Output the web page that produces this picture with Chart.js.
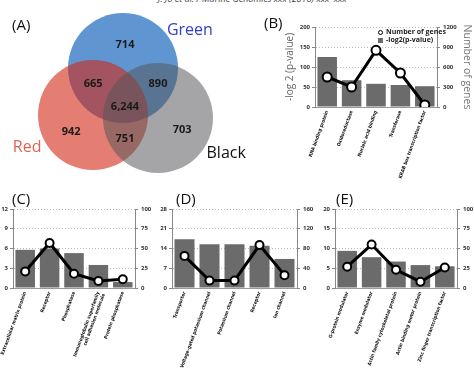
<!DOCTYPE html>
<html>
<head>
<meta charset="utf-8">
<script src="https://cdn.jsdelivr.net/npm/chart.js@4"></script>
<style>
body { margin: 0; width: 474px; height: 373px; background: #fff; position: relative; overflow: hidden; font-family: "Open Sans", sans-serif; }
canvas { position: absolute; }
.tag { position: absolute; font-size: 15px; line-height: 1; color: #111; }
.legend { position: absolute; font-size: 7px; font-weight: bold; line-height: 1; color: #222; white-space: nowrap; }
.legend i { display: inline-block; width: 5px; height: 5px; margin-right: 3px; vertical-align: -1px; }
</style>
</head>
<body>

<div style="position:absolute;left:158px;top:-8px;font-size:9px;font-style:italic;color:#444;">J. Jo et al. / Marine Genomics xxx (2016) xxx–xxx</div>

<canvas id="venn" width="260" height="190" style="left:0;top:0"></canvas>
<canvas id="chartB" width="194" height="175" style="left:280px;top:15px"></canvas>
<canvas id="chartC" width="155" height="178" style="left:0;top:195px"></canvas>
<canvas id="chartD" width="160" height="178" style="left:155px;top:195px"></canvas>
<canvas id="chartE" width="159" height="178" style="left:315px;top:195px"></canvas>

<div class="tag" style="left:12px;top:17px">(A)</div>
<div class="tag" style="left:264px;top:15px">(B)</div>
<div class="tag" style="left:12px;top:191px">(C)</div>
<div class="tag" style="left:176px;top:191px">(D)</div>
<div class="tag" style="left:336px;top:191px">(E)</div>

<div class="legend" style="left:378px;top:28px"><i style="border:1.5px solid #000;border-radius:50%;width:3px;height:3px;background:#fff"></i>Number of genes</div>
<div class="legend" style="left:378px;top:36px"><i style="background:#6b6b6b"></i>-log2(p-value)</div>

<script>
// venn diagram: gene counts per region
const setNames = ['Green', 'Red', 'Black'];
const vennCounts = [714, 665, 890, 6244, 942, 751, 703];

// panel B
const labelsB = ['RNA binding protein', 'Oxidoreductase', 'Nucleic acid binding', 'Transferase', 'KRAB box transcription factor'];
const pvalB = [125, 67, 58, 55, 52];
const genesB = [450, 300, 850, 510, 30];

// panel C
const labelsC = ['Extracellular matrix protein', 'Receptor', 'Phosphatase', ['Immunoglobulin superfamily', 'cell adhesion molecule'], 'Protein phosphatase'];
const pvalC = [5.8, 6.0, 5.3, 3.5, 0.9];
const genesC = [21, 57, 18, 9, 11];

// panel D
const labelsD = ['Transporter', 'Voltage-gated potassium channel', 'Potassium channel', 'Receptor', 'Ion channel'];
const pvalD = [17.3, 15.5, 15.5, 15.0, 10.3];
const genesD = [65, 15, 15, 87, 26];

// panel E
const labelsE = ['G-protein modulator', 'Enzyme modulator', 'Actin family cytoskeletal protein', 'Actin binding motor protein', 'Zinc finger transcription factor'];
const pvalE = [9.4, 7.8, 6.7, 5.8, 5.5];
const genesE = [27, 55, 23, 8, 26];

// venn geometry (circle radius = 1 unit)
const circleCenters = [[0.6, -0.327], [-0.582, -0.273], [-0.036, 0.582]]; // black, red, green
const circleColors = ['rgba(85,85,88,0.53)', 'rgba(210,40,20,0.6)', 'rgb(95,150,210)'];
const countPos = [[0, 1.0], [-0.58, 0.29], [0.6, 0.29], [0, -0.13], [-0.98, -0.58], [0, -0.71], [1.04, -0.545]];
const namePos = [[1.18, 1.27], [-1.78, -0.87], [1.84, -0.98]];
const nameColors = ['#3540c6', '#e0634f', '#111'];

// pick a narrow font for the category labels if one is installed
const probe = document.createElement('canvas').getContext('2d');
function hasFont(f) {
    probe.font = '20px monospace';
    const w0 = probe.measureText('abcdefghijKLMNOP').width;
    probe.font = '20px "' + f + '", monospace';
    return probe.measureText('abcdefghijKLMNOP').width !== w0;
}
const narrow = ['Liberation Sans Narrow', 'DejaVu Sans Condensed', 'Roboto Condensed', 'Open Sans'].find(hasFont) || 'Roboto';
const labelFamily = '"' + narrow + '"';
probe.font = '800 10px ' + labelFamily;
let labelSize = 10 * 72 / probe.measureText('KRAB box transcription factor').width;
labelSize = Math.max(4.5, Math.min(6.5, labelSize));

const vennText = {
    id: 'vennText',
    afterDatasetsDraw(chart) {
        const { ctx, scales: { x, y } } = chart;
        ctx.save();
        ctx.textAlign = 'center';
        ctx.textBaseline = 'middle';
        ctx.font = 'bold 11px "Open Sans"';
        ctx.fillStyle = '#1a1a1a';
        vennCounts.forEach((v, i) => {
            ctx.fillText(v.toLocaleString('en-US'), x.getPixelForValue(countPos[i][0]), y.getPixelForValue(countPos[i][1]));
        });
        ctx.font = '16px "Open Sans"';
        setNames.forEach((n, i) => {
            ctx.fillStyle = nameColors[i];
            ctx.fillText(n, x.getPixelForValue(namePos[i][0]), y.getPixelForValue(namePos[i][1]));
        });
        ctx.restore();
    }
};

const unitPx = c => {
    const s = c.chart.scales.x;
    return s ? s.getPixelForValue(1) - s.getPixelForValue(0) : 0;
};

new Chart(document.getElementById('venn'), {
    type: 'scatter',
    data: {
        datasets: circleCenters.map((p, i) => ({
            data: [{ x: p[0], y: p[1] }],
            pointRadius: unitPx,
            pointBackgroundColor: circleColors[i],
            pointBorderWidth: 0,
            clip: false
        }))
    },
    options: {
        responsive: false,
        animation: false,
        events: [],
        plugins: { legend: { display: false }, tooltip: { enabled: false } },
        scales: {
            x: { type: 'linear', display: false, min: -125 / 55, max: 135 / 55 },
            y: { type: 'linear', display: false, min: -90 / 55, max: 100 / 55 }
        }
    },
    plugins: [vennText]
});

// combined bar + line charts
const tickFont = { size: 6, weight: 'bold', family: '"Open Sans"' };
const catFont = { size: labelSize, weight: 800, family: labelFamily };
const plain = v => String(v);

function combo(id, labels, bars, genes, ax) {
    new Chart(document.getElementById(id), {
        type: 'bar',
        data: {
            labels: labels,
            datasets: [{
                type: 'line',
                label: 'Number of genes',
                data: genes,
                yAxisID: 'y1',
                order: 0,
                borderColor: '#000',
                borderWidth: 3,
                pointRadius: ax.pr || 4,
                pointBackgroundColor: '#fff',
                pointBorderColor: '#000',
                pointBorderWidth: 2
            }, {
                type: 'bar',
                label: '-log2(p-value)',
                data: bars,
                yAxisID: 'y',
                order: 1,
                backgroundColor: '#6b6b6b',
                barPercentage: 0.8,
                categoryPercentage: 1
            }]
        },
        options: {
            responsive: false,
            animation: false,
            events: [],
            layout: { padding: { top: ax.top, left: 0, right: 0, bottom: 0 } },
            plugins: { legend: { display: false }, tooltip: { enabled: false } },
            scales: {
                x: {
                    grid: { display: false, drawTicks: false },
                    border: { color: '#999' },
                    ticks: { minRotation: 70, maxRotation: 70, autoSkip: false, padding: 3, color: '#111', font: catFont },
                    afterFit: s => { s.height = ax.bh; s.paddingLeft = 0; s.paddingRight = 0; }
                },
                y: {
                    position: 'left',
                    min: 0,
                    max: ax.lmax,
                    ticks: { stepSize: ax.lstep, padding: 2, color: '#333', font: tickFont, callback: plain },
                    grid: { color: '#bbb', tickColor: '#888', tickLength: 3 },
                    border: { color: '#888', dash: [1, 2] },
                    title: ax.ltitle ? { display: true, text: ax.ltitle, color: '#666', font: { size: 10, family: '"Open Sans"' }, padding: { top: 4, bottom: 0 } } : { display: false },
                    afterFit: s => { s.width = ax.lw; s.paddingTop = 0; s.paddingBottom = 0; }
                },
                y1: {
                    position: 'right',
                    min: 0,
                    max: ax.rmax,
                    ticks: { stepSize: ax.rstep, padding: 3, color: '#333', font: tickFont, callback: plain },
                    grid: { drawOnChartArea: false, tickColor: '#888', tickLength: 3 },
                    border: { color: '#888' },
                    title: ax.rtitle ? { display: true, text: ax.rtitle, color: '#777', font: { size: 10.5, family: '"Open Sans"' }, padding: { top: 1, bottom: 0 } } : { display: false },
                    afterFit: s => { s.width = ax.rw; s.paddingTop = 0; s.paddingBottom = 0; }
                }
            }
        }
    });
}

combo('chartB', labelsB, pvalB, genesB, { top: 12, bh: 83, lw: 35, rw: 37, lmax: 200, lstep: 50, rmax: 1200, rstep: 300, ltitle: '-log 2 (p-value)', rtitle: 'Number of genes', pr: 4.5 });
combo('chartC', labelsC, pvalC, genesC, { top: 14, bh: 85, lw: 13, rw: 20, lmax: 12, lstep: 3, rmax: 100, rstep: 25 });
combo('chartD', labelsD, pvalD, genesD, { top: 14, bh: 85, lw: 17, rw: 18, lmax: 28, lstep: 7, rmax: 160, rstep: 40 });
combo('chartE', labelsE, pvalE, genesE, { top: 14, bh: 85, lw: 20, rw: 17, lmax: 20, lstep: 5, rmax: 100, rstep: 25 });
</script>
</body>
</html>
